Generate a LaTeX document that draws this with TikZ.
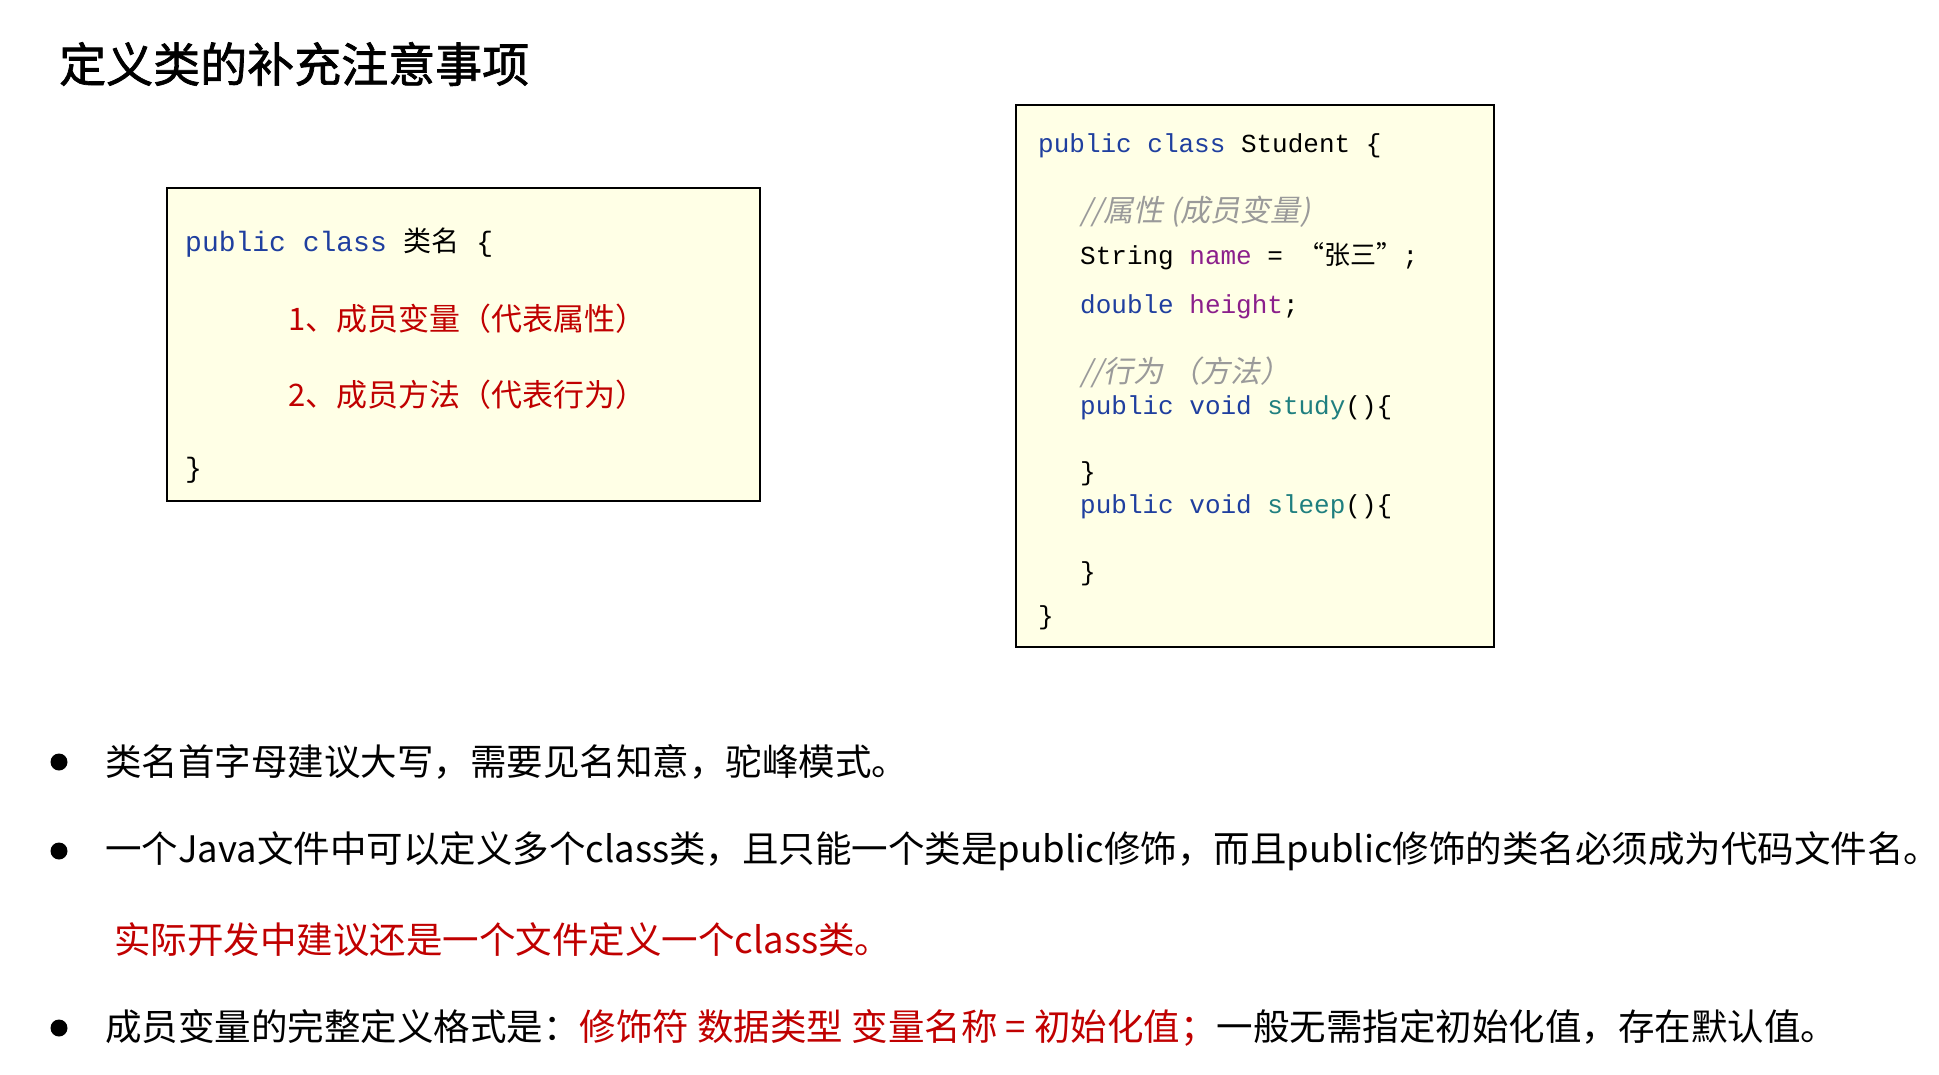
\documentclass[tikz,border=0pt]{standalone}
\usepackage{fontspec}
\setmainfont{Noto Sans CJK SC}
\newfontfamily\cjk{Noto Sans CJK SC}
\newfontfamily\cjkit[FakeSlant=0.2]{Noto Sans CJK SC}
\newfontfamily\cjkb[FakeBold=1.5]{Noto Sans CJK SC}
\newfontfamily\codef{Liberation Mono}
\definecolor{kw}{HTML}{1F3F9F}
\definecolor{vr}{HTML}{8B1F8B}
\definecolor{mt}{HTML}{1F7F7F}
\definecolor{rd}{HTML}{C00000}
\definecolor{cm}{HTML}{9A9A9A}
\definecolor{boxbg}{HTML}{FFFFE6}
\tikzset{
  codebox/.style={draw=black,line width=1.6pt,fill=boxbg},
  code/.style={anchor=west,inner sep=0pt,font=\codef\fontsize{26}{30}\selectfont},
  cmt/.style={anchor=west,inner sep=0pt,font=\cjkit\fontsize{30}{34}\selectfont,text=cm},
  lcode/.style={anchor=west,inner sep=0pt,font=\codef\fontsize{28}{32}\selectfont},
  ltxt/.style={anchor=west,inner sep=0pt,font=\cjk\fontsize{31}{36}\selectfont,text=rd},
  bul/.style={anchor=west,inner sep=0pt,font=\cjk\fontsize{36.5}{42}\selectfont},
  dot/.style={circle,fill=black,inner sep=0pt,minimum size=17pt}
}
\begin{document}
\begin{tikzpicture}[x=1pt,y=-1pt]
\useasboundingbox (0,0) rectangle (1939,1074);
\node[anchor=west,inner sep=0pt,font=\cjkb\fontsize{47}{54}\selectfont] (title) at (59,64) {定义类的补充注意事项};
% left box
\draw[codebox] (167,188) rectangle (760,501);
\node[lcode] (l1) at (185,243) {\textcolor{kw}{public class} {\cjk 类名} \{};
\node[ltxt] (l2) at (288,319) {1、成员变量（代表属性）};
\node[ltxt] (l3) at (288,395) {2、成员方法（代表行为）};
\node[lcode] (l4) at (185,470) {\}};
% right box
\draw[codebox] (1016,105) rectangle (1494,647);
\node[code] (r1) at (1038,146) {\textcolor{kw}{public class} Student \{};
\node[cmt] (r2) at (1080,212) {//属性 (成员变量)};
\node[code] (r3) at (1080,256) {String \textcolor{vr}{name} = {\cjk “张三”};};
\node[code] (r4) at (1080,307) {\textcolor{kw}{double} \textcolor{vr}{height};};
\node[cmt] (r5) at (1080,372) {//行为 （方法）};
\node[code] (r6) at (1080,408) {\textcolor{kw}{public void} \textcolor{mt}{study}()\{};
\node[code] (r7) at (1080,474) {\}};
\node[code] (r8) at (1080,507) {\textcolor{kw}{public void} \textcolor{mt}{sleep}()\{};
\node[code] (r9) at (1080,574) {\}};
\node[code] (r10) at (1038,618) {\}};
% bullets
\node[dot] (d1) at (59,762) {};
\node[bul] (b1) at (105,762) {类名首字母建议大写，需要见名知意，驼峰模式。};
\node[dot] (d2) at (59,851) {};
\node[bul] (b2) at (105,851) {一个Java文件中可以定义多个class类，且只能一个类是public修饰，而且public修饰的类名必须成为代码文件名。};
\node[bul,text=rd] (b3) at (114,940) {实际开发中建议还是一个文件定义一个class类。};
\node[dot] (d4) at (59,1028) {};
\node[bul] (b4) at (105,1028) {成员变量的完整定义格式是：\textcolor{rd}{修饰符 数据类型 变量名称 = 初始化值；}一般无需指定初始化值，存在默认值。};
\end{tikzpicture}
\end{document}
